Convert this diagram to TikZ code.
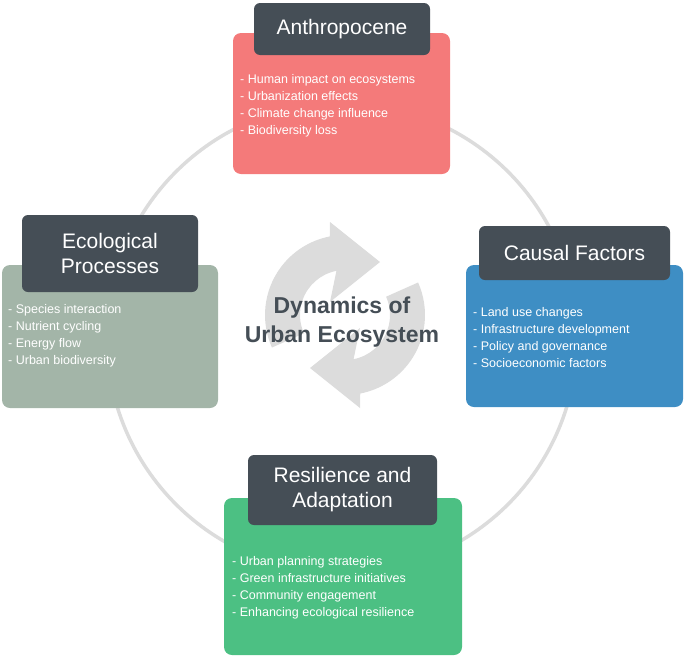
\documentclass[tikz,border=0pt]{standalone}
\usepackage{fontspec}
\setmainfont{Liberation Sans}
\usetikzlibrary{calc}
\begin{document}
\begin{tikzpicture}[x=1pt,y=-1pt,
  cbox/.style={rounded corners=8pt,draw=none},
  tbox/.style={fill=titc,rounded corners=6pt,text=white,font=\fontsize{21}{25}\selectfont,align=center,inner sep=0pt},
  items/.style={text=white,font=\fontsize{12.5}{17}\selectfont,align=left,anchor=north west,inner sep=0pt}]
\definecolor{titc}{HTML}{454E56}
\definecolor{redc}{HTML}{F47A7A}
\definecolor{bluec}{HTML}{3E8EC4}
\definecolor{greyc}{HTML}{A3B5A8}
\definecolor{greenc}{HTML}{4CC083}
\definecolor{ringc}{HTML}{DCDCDC}
\useasboundingbox (0,0) rectangle (685,659);
\coordinate (C) at (345,315);
\draw[ringc,line width=3.5pt] (342,338) circle (235);
% center arrows
\fill[ringc] ($(C)+(156:80)$) arc (156:259:80) -- (330,222) -- (380,262) -- (330,302) -- ($(C)+(259:45)$) arc (259:156:45) -- cycle;
\fill[ringc,rotate around={180:(C)}] ($(C)+(156:80)$) arc (156:259:80) -- (330,222) -- (380,262) -- (330,302) -- ($(C)+(259:45)$) arc (259:156:45) -- cycle;
\node[text=titc,font=\bfseries\fontsize{23}{29}\selectfont,align=center] (center) at (342,322) {Dynamics of\\Urban Ecosystem};
% Anthropocene
\fill[redc,cbox] (233,33) rectangle (450,174);
\node[tbox,minimum width=176,minimum height=52] (t1) at (342,29) {Anthropocene};
\node[items] (i1) at (240,74) {- Human impact on ecosystems\\- Urbanization effects\\- Climate change influence\\- Biodiversity loss};
% Causal
\fill[bluec,cbox] (466,265) rectangle (683,407);
\node[tbox,minimum width=191,minimum height=54] (t2) at (574.5,253) {Causal Factors};
\node[items] (i2) at (473,307) {- Land use changes\\- Infrastructure development\\- Policy and governance\\- Socioeconomic factors};
% Ecological
\fill[greyc,cbox] (2,265) rectangle (218,408);
\node[tbox,minimum width=176,minimum height=77] (t3) at (110,253.5) {Ecological\\Processes};
\node[items] (i3) at (8,304) {- Species interaction\\- Nutrient cycling\\- Energy flow\\- Urban biodiversity};
% Resilience
\fill[greenc,cbox] (224,498) rectangle (462,655);
\node[tbox,minimum width=189,minimum height=70] (t4) at (342.5,490) {Resilience and\\Adaptation};
\node[items] (i4) at (232,556) {- Urban planning strategies\\- Green infrastructure initiatives\\- Community engagement\\- Enhancing ecological resilience};
\end{tikzpicture}
\end{document}
